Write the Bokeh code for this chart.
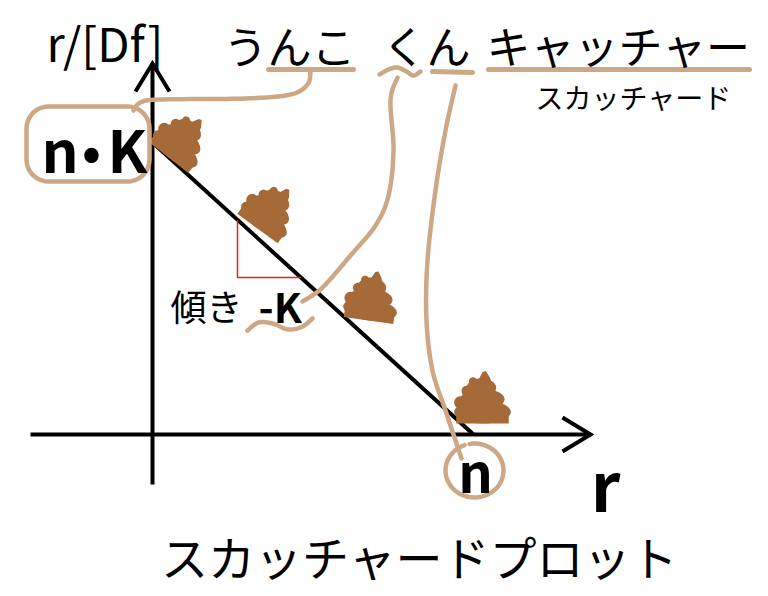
import numpy as np
from bokeh.plotting import figure
from bokeh.models import Range1d
from bokeh.embed import file_html
from bokeh.resources import INLINE
from bokeh.core.properties import value

# ---- chart values (conceptual Scatchard line: n = 1, n*K = 1) ----
r_vals = [0.0, 1.0]            # r : 0 -> n
rdf_vals = [1.0, 0.0]          # r/[Df] : n*K -> 0
y_axis_label = "r/[Df]"
x_axis_label = "r"
intercept_y_parts = ["n", "•", "K"]   # "n•K"
intercept_x_label = "n"
slope_word = "傾き"
slope_label = "-K"
title_parts = ["うんこ", "くん", "キャッチャー"]
subtitle = "スカッチャード"
caption = "スカッチャードプロット"

FONT = "Noto Sans CJK JP"
TAN = "#CCA886"
POO = "#A66A38"

# mapping helpers for the hand-drawn decorations (picture px -> data units)
OX, OY, SX, SY = 152.0, 434.0, 321.0, 292.0
def X(px):
    return (np.asarray(px, float) - OX) / SX
def Y(py):
    return (OY - np.asarray(py, float)) / SY

p = figure(width=752, height=580,
           x_range=Range1d(float(X(0)), float(X(752))),
           y_range=Range1d(float(Y(580)), float(Y(0))),
           output_backend="svg", toolbar_location=None, min_border=0)
p.axis.visible = False
p.grid.visible = False
p.outline_line_color = None
p.background_fill_color = "white"
p.border_fill_color = "white"

def smooth(pts, n=16):
    pts = np.asarray(pts, float)
    P = np.vstack([pts[0], pts, pts[-1]])
    out = []
    for i in range(1, len(P) - 2):
        p0, p1, p2, p3 = P[i - 1], P[i], P[i + 1], P[i + 2]
        for t in np.linspace(0, 1, n, endpoint=False):
            t2, t3 = t * t, t * t * t
            out.append(0.5 * ((2 * p1) + (-p0 + p2) * t + (2 * p0 - 5 * p1 + 4 * p2 - p3) * t2
                              + (-p0 + 3 * p1 - 3 * p2 + p3) * t3))
    out.append(pts[-1])
    out = np.array(out)
    return X(out[:, 0]), Y(out[:, 1])

# ---- axes (arrows) ----
xa0, xa1 = float(X(30)), float(X(590))
ya0, ya1 = float(Y(484)), float(Y(63))
p.line([xa0, xa1], [0, 0], line_width=4, color="black")
p.line([0, 0], [ya0, ya1], line_width=4, color="black")
p.line(X([562, 590, 562]), Y([417, 434, 451]), line_width=4, color="black", line_join="miter")
p.line(X([135, 152, 169]), Y([91, 63, 91]), line_width=4, color="black", line_join="miter")

# ---- Scatchard line ----
p.line(r_vals, rdf_vals, line_width=4, color="black")

# slope triangle (red)
tx = float(X(237))
ty = float(Y(277))
slope = (rdf_vals[1] - rdf_vals[0]) / (r_vals[1] - r_vals[0])
p.line([tx, tx, r_vals[0] + (ty - rdf_vals[0]) / slope],
       [rdf_vals[0] + slope * tx, ty, ty], line_width=1.5, color="#E8231E")

# ---- poops ----
def poop(bx, by, rot, s=1.0):
    th = np.deg2rad(rot)
    polys = []
    def add(lx, ly):
        lx = np.asarray(lx) * s
        ly = np.asarray(ly) * s
        sx = bx + lx * np.cos(th) + ly * np.sin(th)
        sy = by + lx * np.sin(th) - ly * np.cos(th)
        polys.append((X(sx), Y(sy)))
    t = np.linspace(0, 2 * np.pi, 48)
    for cx, cy, rx, ry in [(0, 11, 27, 11), (0, 23, 21, 10), (-1, 34, 14, 9)]:
        add(cx + rx * np.cos(t), cy + ry * np.sin(t))
    add([-25, 25, 25, -25], [0, 0, 11, 11])
    for cx, cy, rr in [(-21, 20, 6), (-15, 31, 5), (-9, 40, 4)]:
        add(cx + rr * np.cos(t), cy + rr * np.sin(t))
    add([-8, 9, 7, 3, 0, -3], [38, 38, 44, 50, 49, 43])
    return polys

all_xs, all_ys = [], []
for bx, by, rot, s in [(168, 157, 38, 1.0), (257, 228, 36, 1.0), (368, 320, 8, 1.0), (482, 423, 0, 1.05)]:
    for xs, ys in poop(bx, by, rot, s):
        all_xs.append(list(xs))
        all_ys.append(list(ys))
p.patches(all_xs, all_ys, fill_color=POO, line_color=None)

# ---- tan hand-drawn annotations ----
def tan(pts, w=4.5, raw=False):
    if raw:
        pts = np.asarray(pts, float)
        xs, ys = X(pts[:, 0]), Y(pts[:, 1])
    else:
        xs, ys = smooth(pts)
    p.line(xs, ys, line_width=w, color=TAN, line_cap="round", line_join="round")

tan([(268, 69), (353, 69)], w=5, raw=True)
tan([(310, 71), (307, 84), (290, 94), (245, 98), (160, 99), (140, 102), (133, 110)])
def rrect(x0, y0, x1, y1, r):
    pts = []
    for cx, cy, a0 in [(x1 - r, y0 + r, -90), (x1 - r, y1 - r, 0), (x0 + r, y1 - r, 90), (x0 + r, y0 + r, 180)]:
        for a in np.linspace(a0, a0 + 90, 10):
            pts.append((cx + r * np.cos(np.deg2rad(a)), cy + r * np.sin(np.deg2rad(a))))
    pts.append(pts[0])
    return pts
tan(rrect(26, 106, 149, 181, 22), raw=True)
tan([(488, 69), (749, 69)], w=5, raw=True)
tan([(379, 74), (388, 69), (397, 67), (406, 71), (413, 75), (420, 71)])
tan([(397, 77), (390, 100), (393, 150), (388, 195), (375, 225), (350, 255), (322, 287), (302, 301)])
tan([(432, 71), (472, 72)], w=5, raw=True)
tan([(455, 85), (445, 130), (435, 190), (427, 260), (426, 320), (432, 370), (445, 410), (455, 440), (461, 458)])
t = np.linspace(np.deg2rad(-100), np.deg2rad(250), 60)
tan(list(zip(474 + 29 * np.cos(t), 470 + 27 * np.sin(t))), raw=True)
tan([(247, 330), (258, 322), (272, 323), (288, 329), (302, 326), (312, 318)])

# ---- texts ----
def txt(x, y, s, size, align="left", bold=False, base="middle"):
    p.text([float(x)], [float(y)], text=[s], text_font=value(FONT), text_font_size=f"{size}px",
           text_align=align, text_baseline=base, text_color="black",
           text_font_style="bold" if bold else "normal")

txt(X(46), Y(41), y_axis_label, 47)
txt(X(41), Y(147), intercept_y_parts[0], 58, bold=True)
txt(X(91), Y(147), intercept_y_parts[1], 50, align="center", bold=True)
txt(X(107), Y(147), intercept_y_parts[2], 58, bold=True)
txt(X(223), Y(44), title_parts[0], 44)
txt(X(382), Y(44), title_parts[1], 44)
txt(X(486), Y(44), title_parts[2], 44)
txt(X(535), Y(96), subtitle, 28)
txt(X(170), Y(304), slope_word, 36)
txt(X(258), Y(304), slope_label, 41, bold=True)
txt(X(475), Y(469), intercept_x_label, 54, align="center", bold=True)
txt(X(605), Y(482), x_axis_label, 68, align="center", bold=True)
txt(X(419), Y(555), caption, 47, align="center")

open("out.html", "w").write(file_html(p, INLINE))
